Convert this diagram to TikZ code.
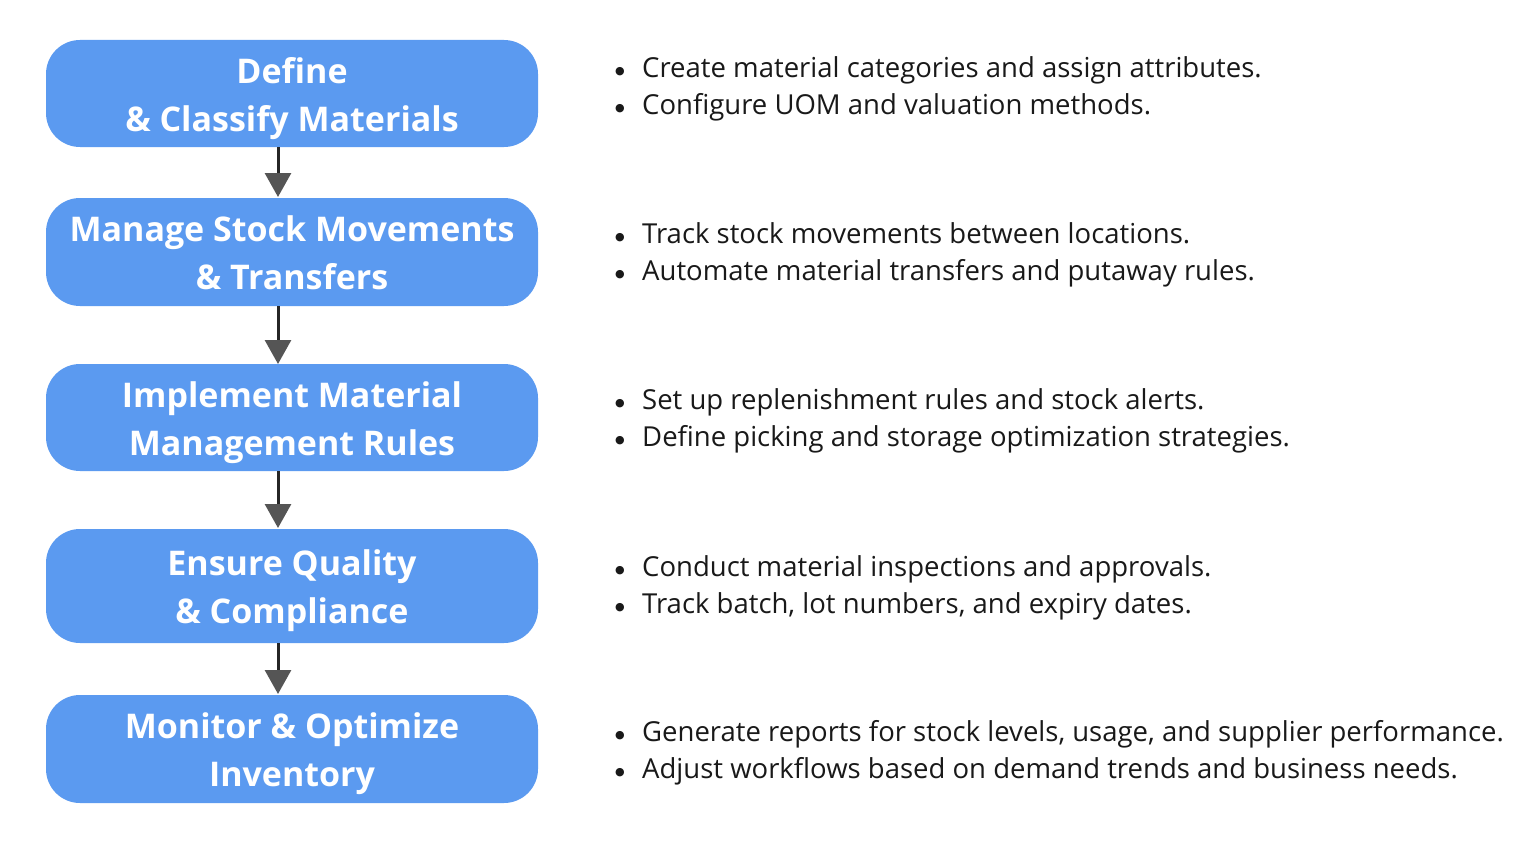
\documentclass[tikz,border=0pt]{standalone}
\usepackage{fontspec}
\setmainfont{Open Sans}
\newfontfamily\symfont{DejaVu Sans}
\usetikzlibrary{arrows.meta}
\definecolor{boxblue}{HTML}{5B9AF0}
\definecolor{arrowgray}{HTML}{555555}
\tikzset{
  stepbox/.style={fill=boxblue, draw=none, rounded corners=34pt, minimum width=492pt, inner sep=0pt, text=white, align=center, font=\bfseries\fontsize{34}{48}\selectfont},
  flow/.style={draw=black!85, line width=3pt, -{Triangle[length=24pt,width=26pt,color=arrowgray]}},
  item/.style={anchor=base west, inner sep=0pt, text=black!90, font=\fontsize{27.5}{30}\selectfont}
}
\newcommand{\bul}[1]{\makebox[27pt][l]{\raisebox{3pt}{\symfont\fontsize{11}{11}\selectfont ●}}#1}
\newcommand{\ttl}[2]{\raisebox{-4pt}[\height][\depth]{\begin{tabular}{@{}c@{}}#1\\#2\end{tabular}}}
\begin{document}
\begin{tikzpicture}[x=1pt,y=-1pt]
\useasboundingbox[fill=white] (0,0) rectangle (1536,864);
\node[stepbox, minimum height=107pt] (b1) at (292,93.5) {\ttl{Define}{\& Classify Materials}};
\node[stepbox, minimum height=108pt] (b2) at (292,252) {\ttl{Manage Stock Movements}{\& Transfers}};
\node[stepbox, minimum height=107pt] (b3) at (292,417.5) {\ttl{Implement Material}{Management Rules}};
\node[stepbox, minimum height=114pt] (b4) at (292,586) {\ttl{Ensure Quality}{\& Compliance}};
\node[stepbox, minimum height=108pt] (b5) at (292,749) {\ttl{Monitor \& Optimize}{Inventory}};
\coordinate (a1s) at (278,147); \coordinate (a1e) at (278,197);
\coordinate (a2s) at (278,306); \coordinate (a2e) at (278,364);
\coordinate (a3s) at (278,471); \coordinate (a3e) at (278,528);
\coordinate (a4s) at (278,643); \coordinate (a4e) at (278,694);
\draw[flow] (a1s) -- (a1e);
\draw[flow] (a2s) -- (a2e);
\draw[flow] (a3s) -- (a3e);
\draw[flow] (a4s) -- (a4e);
\node[item] (t1a) at (615,78) {\bul{Create material categories and assign attributes.}};
\node[item] (t1b) at (615,115) {\bul{Configure UOM and valuation methods.}};
\node[item] (t2a) at (615,243) {\bul{Track stock movements between locations.}};
\node[item] (t2b) at (615,280) {\bul{Automate material transfers and putaway rules.}};
\node[item] (t3a) at (615,409) {\bul{Set up replenishment rules and stock alerts.}};
\node[item] (t3b) at (615,446) {\bul{Define picking and storage optimization strategies.}};
\node[item] (t4a) at (615,576) {\bul{Conduct material inspections and approvals.}};
\node[item] (t4b) at (615,613) {\bul{Track batch, lot numbers, and expiry dates.}};
\node[item] (t5a) at (615,741) {\bul{Generate reports for stock levels, usage, and supplier performance.}};
\node[item] (t5b) at (615,778) {\bul{Adjust workflows based on demand trends and business needs.}};
\end{tikzpicture}
\end{document}
